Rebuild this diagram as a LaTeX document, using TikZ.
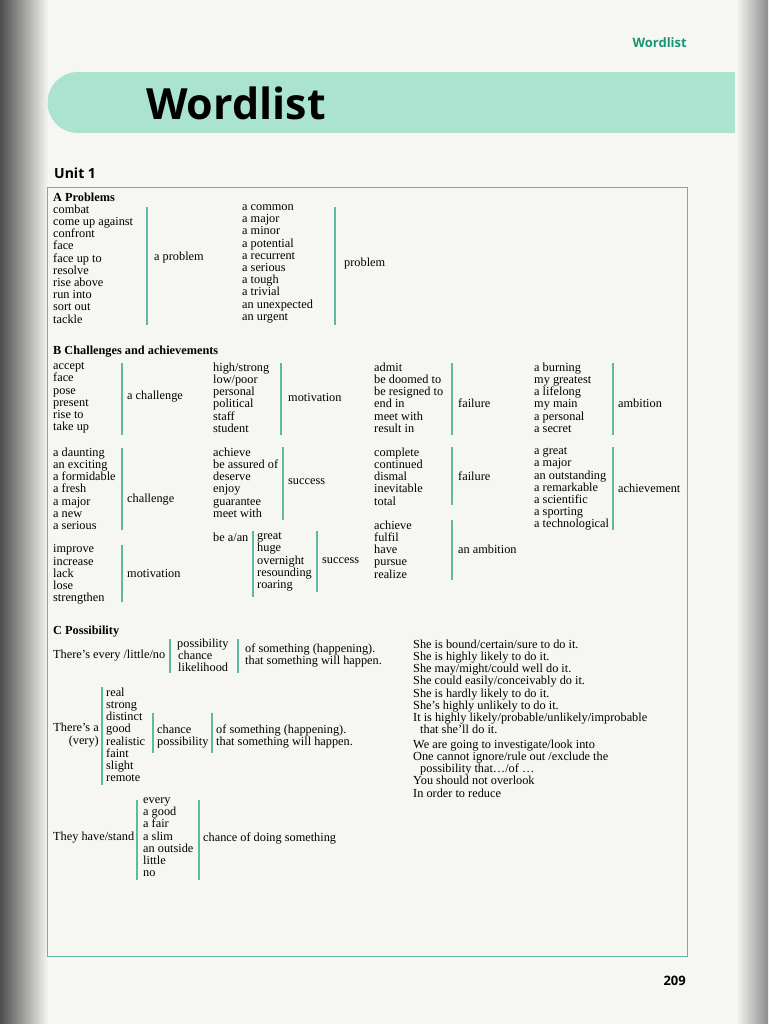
\documentclass[tikz,border=0pt]{standalone}
\usepackage{fontspec}
\setmainfont{Liberation Serif}
\newfontfamily\hfont{Open Sans}
\definecolor{tealT}{RGB}{25,150,115}
\definecolor{band}{RGB}{170,228,208}
\definecolor{barc}{RGB}{95,185,165}
\definecolor{paper}{RGB}{246,246,242}
\tikzset{
 wl/.style={anchor=west,inner sep=0pt,align=left,font=\fontsize{12.3}{12.2}\selectfont},
 hd/.style={anchor=west,inner sep=0pt,font=\bfseries\fontsize{12.3}{12}\selectfont},
 bar/.style={draw=barc,line width=1.3pt},
}
\newcommand{\wlst}[4]{\node[wl,anchor=north west] (#1) at (#2,#3-4.5) {#4};}
\begin{document}
\begin{tikzpicture}[x=1pt,y=-1pt]
\useasboundingbox (0,0) rectangle (768,1024);
\fill[paper] (0,0) rectangle (768,1024);
\shade[left color=black!70,right color=paper] (0,0) rectangle (48,1024);
\shade[left color=paper,right color=black!45] (736,0) rectangle (768,1024);
\fill[band] (78,72) rectangle (735,133);
\fill[band] (78,102.5) circle[radius=30.5];
\node[anchor=west,inner sep=0pt,font=\hfont\bfseries\fontsize{43}{45}\selectfont] (title) at (146,103) {Wordlist};
\node[anchor=east,inner sep=0pt,text=tealT,font=\hfont\bfseries\fontsize{13}{14}\selectfont] (hdr) at (687,43) {Wordlist};
\node[anchor=west,inner sep=0pt,font=\hfont\bfseries\fontsize{14}{15}\selectfont] (unit) at (54,173) {Unit 1};
\draw[barc,line width=0.6pt] (47,187) rectangle (687,956);
\node[anchor=east,inner sep=0pt,font=\hfont\bfseries\fontsize{13}{14}\selectfont] (pg) at (686,981) {209};
% A
\node[hd] (hA) at (53,197) {A Problems};
\wlst{a1}{53}{209}{combat\\come up against\\confront\\face\\face up to\\resolve\\rise above\\run into\\sort out\\tackle}
\draw[bar] (147,207) -- (147,325);
\node[wl] (a2) at (154,258) {a problem};
\wlst{a3}{242}{209}{a common\\a major\\a minor\\a potential\\a recurrent\\a serious\\a tough\\a trivial\\an unexpected\\an urgent}
\draw[bar] (335,207) -- (335,325);
\node[wl] (a4) at (344,264) {problem};
% B
\node[hd] (hB) at (53,352) {B Challenges and achievements};
\wlst{b1}{53}{367}{accept\\face\\pose\\present\\rise to\\take up}
\draw[bar] (122,363) -- (122,435); \node[wl] (b1r) at (127,397) {a challenge};
\wlst{b2}{213}{367}{high/strong\\low/poor\\personal\\political\\staff\\student}
\draw[bar] (281,363) -- (281,435); \node[wl] (b2r) at (288,397) {motivation};
\wlst{b3}{374}{367}{admit\\be doomed to\\be resigned to\\end in\\meet with\\result in}
\draw[bar] (452,363) -- (452,435); \node[wl] (b3r) at (458,403) {failure};
\wlst{b4}{534}{367}{a burning\\my greatest\\a lifelong\\my main\\a personal\\a secret}
\draw[bar] (613,363) -- (613,435); \node[wl] (b4r) at (618,403) {ambition};
\wlst{c1}{53}{452}{a daunting\\an exciting\\a formidable\\a fresh\\a major\\a new\\a serious}
\draw[bar] (122,448) -- (122,530); \node[wl] (c1r) at (127,500) {challenge};
\wlst{c2}{213}{452}{achieve\\be assured of\\deserve\\enjoy\\guarantee\\meet with}
\draw[bar] (283,447) -- (283,520); \node[wl] (c2r) at (288,482) {success};
\wlst{c3}{374}{452}{complete\\continued\\dismal\\inevitable\\total}
\draw[bar] (452,447) -- (452,505); \node[wl] (c3r) at (458,476) {failure};
\wlst{c4}{534}{452}{a great\\a major\\an outstanding\\a remarkable\\a scientific\\a sporting\\a technological}
\draw[bar] (613,447) -- (613,530); \node[wl] (c4r) at (618,488) {achievement};
\wlst{d1}{53}{549}{improve\\increase\\lack\\lose\\strengthen}
\draw[bar] (122,545) -- (122,602); \node[wl] (d1r) at (127,573) {motivation};
\node[wl] (d2l) at (213,537) {be a/an};
\draw[bar] (253,531) -- (253,597);
\wlst{d2}{257}{537}{great\\huge\\overnight\\resounding\\roaring}
\draw[bar] (317,531) -- (317,592); \node[wl] (d2r) at (322,561) {success};
\wlst{d3}{374}{525}{achieve\\fulfil\\have\\pursue\\realize}
\draw[bar] (452,520) -- (452,580); \node[wl] (d3r) at (458,549) {an ambition};
% C
\node[hd] (hC) at (53,632) {C Possibility};
\node[wl] (e1) at (53,656) {There's every /little/no};
\draw[bar] (170,639) -- (170,673);
\wlst{e2}{177}{643}{possibility\\\hspace*{1pt}chance\\\hspace*{1pt}likelihood}
\draw[bar] (238,639) -- (238,673);
\wlst{e3}{245}{648}{of something (happening).\\that something will happen.}
\node[wl,align=right,anchor=east] (f1) at (99,735) {There's a\\(very)};
\draw[bar] (102,687) -- (102,785);
\wlst{f2}{106}{692}{real\\strong\\distinct\\good\\realistic\\faint\\slight\\remote}
\draw[bar] (153,713) -- (153,753);
\wlst{f3}{157}{729}{chance\\possibility}
\draw[bar] (212,713) -- (212,753);
\wlst{f4}{216}{729}{of something (happening).\\that something will happen.}
\node[wl] (g1) at (53,838) {They have/stand};
\draw[bar] (137,800) -- (137,880);
\wlst{g2}{143}{802}{every\\a good\\a fair\\a slim\\an outside\\little\\no}
\draw[bar] (199,800) -- (199,880);
\node[wl] (g3) at (203,838) {chance of doing something};
\wlst{h1}{413}{644}{She is bound/certain/sure to do it.\\She is highly likely to do it.\\She may/might/could well do it.\\She could easily/conceivably do it.\\She is hardly likely to do it.\\She's highly unlikely to do it.\\It is highly likely/probable/unlikely/improbable\\\hspace*{7pt}that she'll do it.}
\wlst{h2}{413}{744}{We are going to investigate/look into\\One cannot ignore/rule out /exclude the\\\hspace*{7pt}possibility that\dots/of \dots\\You should not overlook\\In order to reduce}
\end{tikzpicture}
\end{document}
